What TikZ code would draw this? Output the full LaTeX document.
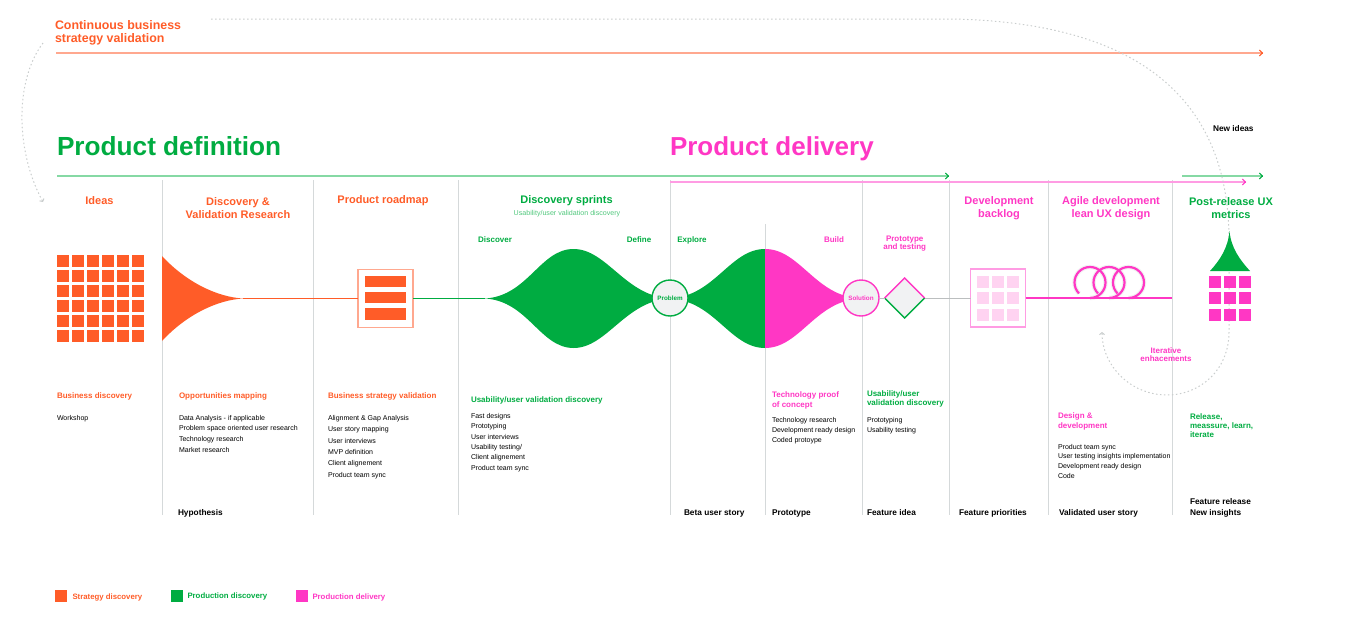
\documentclass[tikz,border=0pt]{standalone}
\usepackage{fontspec}
\setmainfont{Liberation Sans}
\usetikzlibrary{arrows.meta,shapes.geometric}
\definecolor{strat}{HTML}{FF5C28}
\definecolor{disc}{HTML}{00AC41}
\definecolor{deliv}{HTML}{FF37C4}
\definecolor{stratl}{HTML}{FFA88F}
\definecolor{discl}{HTML}{86D9A4}
\definecolor{delivl}{HTML}{FF9CE3}
\definecolor{delivp}{HTML}{FFD3F1}
\definecolor{rule}{HTML}{D5D9DA}
\definecolor{dots}{HTML}{C9CDCD}
\definecolor{halo}{HTML}{F1F2F3}
\tikzset{every node/.style={inner sep=0pt,outer sep=0pt},
head/.style={font=\fontsize{11}{13}\selectfont\bfseries,align=center},
sub/.style={font=\fontsize{8}{9.3}\selectfont\bfseries,align=left,anchor=west},
mini/.style={font=\fontsize{8}{8.2}\selectfont\bfseries,align=center},
foot/.style={font=\fontsize{8.3}{11}\selectfont\bfseries,anchor=base west},
legend/.style={font=\fontsize{7.8}{9}\selectfont\bfseries,anchor=base west},
items/.style={font=\fontsize{7}{#1}\selectfont,anchor=north west,align=left},
sq/.style={minimum size=#1,fill},
frame/.style={draw,line width=1.2pt,minimum width=55,minimum height=58,fill=white},
ball/.style={circle,draw,line width=1.4pt,minimum size=36,fill=halo,font=\fontsize{6.3}{8}\selectfont\bfseries},
hint/.style={draw=dots,line width=1pt,dash pattern=on 1.5pt off 2.5pt},
axis/.style={line width=1.4pt}}

\begin{document}
\begin{tikzpicture}[x=1pt,y=-1pt]
\useasboundingbox (0,0) rectangle (1358,637);
% dividers
\foreach \x/\t in {162/180,313/180,458/180,670/180,765/224,862/180,949/180,1048/180,1172/180}{
\coordinate (top\x) at (\x,\t);
\coordinate (bot\x) at (\x,515);
\path[draw,color=rule,line width=1pt] (top\x)--(bot\x);
}
% axis lines
\path
(56,53) coordinate(a1) (1263,53) coordinate(a2)
(57,176) coordinate(b1) (949,176) coordinate(b2)
(670,182) coordinate(c1) (1246,182) coordinate(c2)
(1182,176) coordinate(d1) (1263,176) coordinate(d2);
\foreach \s/\e/\l/\c in {a1/a2/stratl/strat,b1/b2/discl/disc,c1/c2/delivl/deliv,d1/d2/discl/disc}{
\path[draw,axis,color=\l] (\s)--(\e);
\path[draw,line width=1pt,color=\c,-{Straight Barb[length=3pt,width=6pt]}] ([xshift=-1pt]\e)--(\e);
}
% feedback loops
\path
(43,43) coordinate(l1) (43,202) coordinate(l2)
(211,19) coordinate(r1) (1102,332) coordinate(r2);
\path[hint,-{Straight Barb[length=2pt,width=5pt,color=dots]}] (l1) .. controls (15,80) and (15,150) .. (l2);
\path[hint,-{Straight Barb[length=2pt,width=5pt,color=dots]}] (r1) -- (950,19) .. controls (1140,22) and (1229,100) .. (1229,240) -- (1229,332) .. controls (1229,370) and (1200,395) .. (1167,395) .. controls (1130,395) and (1102,365) .. (r2);
% titles
\path
(55,33) node[anchor=west,font=\fontsize{12.4}{13}\selectfont\bfseries,color=strat,align=left](cont){Continuous business\\strategy validation}
(57,155.5) node[anchor=base west,font=\fontsize{26.2}{30}\selectfont\bfseries,color=disc](defn){Product definition}
(670,155.5) node[anchor=base west,font=\fontsize{26}{30}\selectfont\bfseries,color=deliv](deliv){Product delivery}
(1213,131) node[foot](newideas){New ideas};
% column heads
\path
(99.5,201) node[head,color=strat](ideas){Ideas}
(238,208) node[head,color=strat](valid){Discovery \&\\Validation Research}
(383,201) node[head,color=strat](road){Product roadmap}
(566.5,200.5) node[head,color=disc](sprint){Discovery sprints}
(567,214) node[font=\fontsize{7.1}{9}\selectfont,color=discl!60!disc](usab){Usability/user validation discovery}
(999,208) node[head,color=deliv](backlog){Development\\backlog}
(1111,208) node[head,color=deliv](agile){Agile development\\lean UX design}
(1231,208) node[head,color=disc](post){Post-release UX\\metrics}
(495,242) node[mini,anchor=base,color=disc](discover){Discover}
(639,242) node[mini,anchor=base,color=disc](define){Define}
(692,242) node[mini,anchor=base,color=disc](explore){Explore}
(834,242) node[mini,anchor=base,color=deliv](build){Build}
(904.7,243.5) node[mini,color=deliv](proto){Prototype\\and testing}
(1166,355) node[mini,color=deliv](iter){Iterative\\enhacements};
% icons
\foreach \i in {0,...,5}
\foreach \j in {0,...,5}
\node[sq=12,color=strat] (g\i\j) at (62.7+15*\i,261+15*\j) {};
\fill[strat] (162,256) .. controls (186,282) and (217,297) .. (243,298.5) .. controls (217,300) and (186,315) .. (162,341) -- cycle;
\coordinate (ftip) at (243,298.5);
\node[frame,draw=stratl] (rbox) at (385.5,298.5) {};
\path[draw,color=strat,line width=1.2pt] (ftip)--(rbox.west);
\node[minimum width=41,minimum height=11.5,fill=strat] (bar1) at (385.5,281.5) {};
\node[minimum width=41,minimum height=11.5,fill=strat] (bar2) at (385.5,297.5) {};
\node[minimum width=41,minimum height=11.5,fill=strat] (bar3) at (385.5,314) {};
\coordinate (stail) at (485,298.5);
\path[draw,color=disc,line width=1.2pt] (rbox.east)--(stail);
\fill[disc] (stail) .. controls (528,296) and (540,249) .. (573.5,249) .. controls (607,249) and (625,296) .. (670,298.5) .. controls (715,296) and (730,249) .. (765,249) -- (765,348) .. controls (730,348) and (715,301) .. (670,298.5) .. controls (625,301) and (607,348) .. (573.5,348) .. controls (540,348) and (528,301) .. (stail);
\fill[deliv] (765,249) .. controls (800,249) and (815,296) .. (860,298.5) .. controls (815,301) and (800,348) .. (765,348) -- cycle;
\node[ball,draw=disc,text=disc] (problem) at (670,298) {Problem};
\node[ball,draw=deliv,text=deliv] (solution) at (861,298) {Solution};
\node[diamond,fill=halo,minimum width=40,minimum height=40] (gate) at (904.7,298) {};
\path[draw,color=disc,line width=1.4pt] (gate.west)--(gate.south)--(gate.east);
\path[draw,color=deliv,line width=1.4pt] (gate.west)--(gate.north)--(gate.east);
\node[frame,draw=delivl] (bbox) at (998,298) {};
\path[draw,color=rule!70!gray,line width=1pt] (solution)--(gate);
\path[draw,color=rule!70!gray,line width=1pt] (gate)--(bbox);
\foreach \i in {0,1,2}
\foreach \y [count=\j] in {282,297.7,315}{
\node[sq=12,color=delivp] (b\i\j) at (983+15*\i,\y) {};
\node[sq=12,color=deliv] (m\i\j) at (1214.7+15*\i,\y) {};
}
\foreach \x in {1090,1109,1128.5}
\draw[halo,line width=4.5pt] (\x,298) arc[start angle=90,end angle=-225,radius=15.5];
\coordinate (pend) at (1172,298);
\path[draw,color=deliv,line width=2.2pt] (bbox.east)--(pend);
\foreach \x in {1090,1109,1128.5}
\draw[deliv,line width=2.2pt] (\x,298) arc[start angle=90,end angle=-225,radius=15.5];
\fill[disc] (1229.5,231) .. controls (1231,248) and (1240,260) .. (1250,271) -- (1210,271) .. controls (1220,260) and (1228,248) .. cycle;
% lists
\path
(57,396.5) node[sub,color=strat](s1){Business discovery}
(57,415) node[items=10.7](i1){Workshop}
(179,396.5) node[sub,color=strat](s2){Opportunities mapping}
(179,415) node[items=10.7](i2){Data Analysis - if applicable\\Problem space oriented user research\\Technology research\\Market research}
(328,396.5) node[sub,color=strat](s3){Business strategy validation}
(328,415.5) node[items=11.3](i3){Alignment \& Gap Analysis\\User story mapping\\User interviews\\MVP definition\\Client alignement\\Product team sync}
(471,400.5) node[sub,color=disc](s4){Usability/user validation discovery}
(471,413.5) node[items=10.3](i4){Fast designs\\Prototyping\\User interviews\\Usability testing/\\Client alignement\\Product team sync}
(772,400.5) node[sub,color=deliv](s5){Technology proof\\of concept}
(772,417) node[items=10](i5){Technology research\\Development ready design\\Coded protoype}
(867,399) node[sub,color=disc](s6){Usability/user\\validation discovery}
(867,417) node[items=10](i6){Prototyping\\Usability testing}
(1058,421.5) node[sub,color=deliv](s7){Design \&\\development}
(1058,444) node[items=9.8](i7){Product team sync\\User testing insights implementation\\Development ready design\\Code}
(1190,425.5) node[sub,color=disc](s8){Release,\\meassure, learn,\\iterate};
% outputs
\path
(178,515) node[foot](o1){Hypothesis}
(684,515) node[foot](o2){Beta user story}
(772,515) node[foot](o3){Prototype}
(867,515) node[foot](o4){Feature idea}
(959,515) node[foot](o5){Feature priorities}
(1059,515) node[foot](o6){Validated user story}
(1190,504) node[foot](o7){Feature release}
(1190,515) node[foot](o8){New insights};
% legend
\path
(61.3,596) node[sq=12,color=strat](k1){}
(176.5,596) node[sq=12,color=disc](k2){}
(301.5,596) node[sq=12,color=deliv](k3){}
(72.5,599.3) node[legend,color=strat](t1){Strategy discovery}
(187.5,598.8) node[legend,color=disc](t2){Production discovery}
(312.5,599.3) node[legend,color=deliv](t3){Production delivery};
\end{tikzpicture}
\end{document}
